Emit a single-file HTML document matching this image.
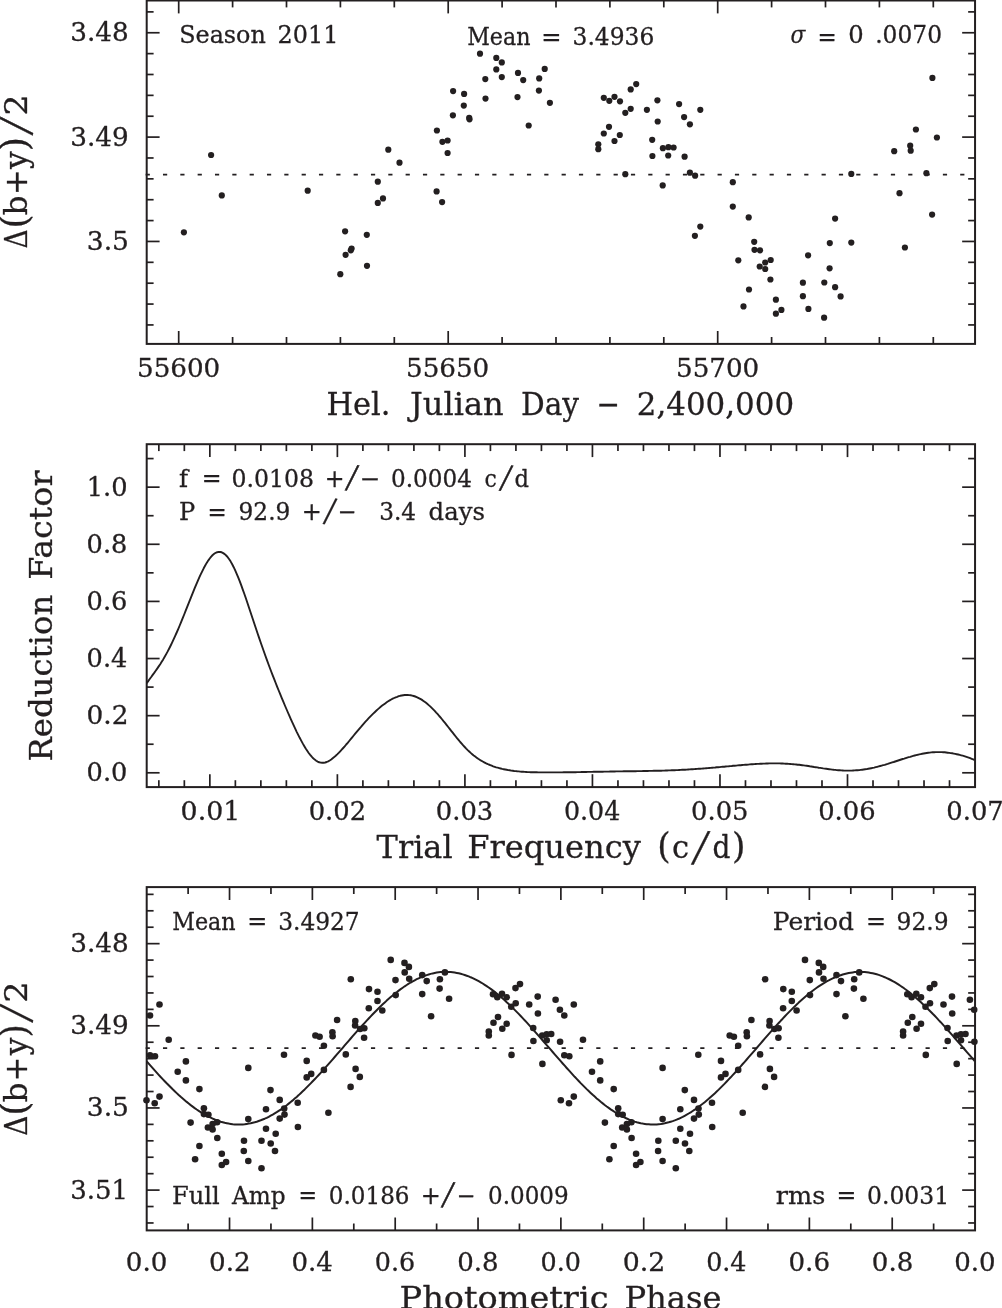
<!DOCTYPE html>
<html lang="en"><head><meta charset="utf-8"><title>Photometric light curve, periodogram and phase plot</title>
<style>html,body{margin:0;padding:0;background:#fff}body{width:1002px;height:1308px;overflow:hidden}svg{display:block}text{font-family:"DejaVu Serif", "Liberation Serif", serif;fill:#231f20;stroke:#231f20;stroke-width:0.3px;stroke-linejoin:round;white-space:pre}</style>
</head><body>
<svg width="1002" height="1308" viewBox="0 0 1002 1308">
<rect width="1002" height="1308" fill="#ffffff"/>
<g stroke="#231f20" fill="none" stroke-linecap="butt">
<rect x="146.7" y="0.5" width="828.3499999999999" height="343.4" fill="none" stroke-width="2.0"/>
<line x1="146.70" y1="32.75" x2="159.60" y2="32.75" stroke-width="1.7" />
<line x1="975.05" y1="32.75" x2="962.15" y2="32.75" stroke-width="1.7" />
<line x1="146.70" y1="137.10" x2="159.60" y2="137.10" stroke-width="1.7" />
<line x1="975.05" y1="137.10" x2="962.15" y2="137.10" stroke-width="1.7" />
<line x1="146.70" y1="241.45" x2="159.60" y2="241.45" stroke-width="1.7" />
<line x1="975.05" y1="241.45" x2="962.15" y2="241.45" stroke-width="1.7" />
<line x1="146.70" y1="11.88" x2="153.60" y2="11.88" stroke-width="1.7" />
<line x1="975.05" y1="11.88" x2="968.15" y2="11.88" stroke-width="1.7" />
<line x1="146.70" y1="53.62" x2="153.60" y2="53.62" stroke-width="1.7" />
<line x1="975.05" y1="53.62" x2="968.15" y2="53.62" stroke-width="1.7" />
<line x1="146.70" y1="74.49" x2="153.60" y2="74.49" stroke-width="1.7" />
<line x1="975.05" y1="74.49" x2="968.15" y2="74.49" stroke-width="1.7" />
<line x1="146.70" y1="95.36" x2="153.60" y2="95.36" stroke-width="1.7" />
<line x1="975.05" y1="95.36" x2="968.15" y2="95.36" stroke-width="1.7" />
<line x1="146.70" y1="116.23" x2="153.60" y2="116.23" stroke-width="1.7" />
<line x1="975.05" y1="116.23" x2="968.15" y2="116.23" stroke-width="1.7" />
<line x1="146.70" y1="157.97" x2="153.60" y2="157.97" stroke-width="1.7" />
<line x1="975.05" y1="157.97" x2="968.15" y2="157.97" stroke-width="1.7" />
<line x1="146.70" y1="178.84" x2="153.60" y2="178.84" stroke-width="1.7" />
<line x1="975.05" y1="178.84" x2="968.15" y2="178.84" stroke-width="1.7" />
<line x1="146.70" y1="199.71" x2="153.60" y2="199.71" stroke-width="1.7" />
<line x1="975.05" y1="199.71" x2="968.15" y2="199.71" stroke-width="1.7" />
<line x1="146.70" y1="220.58" x2="153.60" y2="220.58" stroke-width="1.7" />
<line x1="975.05" y1="220.58" x2="968.15" y2="220.58" stroke-width="1.7" />
<line x1="146.70" y1="262.32" x2="153.60" y2="262.32" stroke-width="1.7" />
<line x1="975.05" y1="262.32" x2="968.15" y2="262.32" stroke-width="1.7" />
<line x1="146.70" y1="283.19" x2="153.60" y2="283.19" stroke-width="1.7" />
<line x1="975.05" y1="283.19" x2="968.15" y2="283.19" stroke-width="1.7" />
<line x1="146.70" y1="304.06" x2="153.60" y2="304.06" stroke-width="1.7" />
<line x1="975.05" y1="304.06" x2="968.15" y2="304.06" stroke-width="1.7" />
<line x1="146.70" y1="324.93" x2="153.60" y2="324.93" stroke-width="1.7" />
<line x1="975.05" y1="324.93" x2="968.15" y2="324.93" stroke-width="1.7" />
<line x1="178.70" y1="0.50" x2="178.70" y2="13.40" stroke-width="1.7" />
<line x1="178.70" y1="343.90" x2="178.70" y2="331.00" stroke-width="1.7" />
<line x1="448.20" y1="0.50" x2="448.20" y2="13.40" stroke-width="1.7" />
<line x1="448.20" y1="343.90" x2="448.20" y2="331.00" stroke-width="1.7" />
<line x1="717.70" y1="0.50" x2="717.70" y2="13.40" stroke-width="1.7" />
<line x1="717.70" y1="343.90" x2="717.70" y2="331.00" stroke-width="1.7" />
<line x1="232.60" y1="0.50" x2="232.60" y2="7.40" stroke-width="1.7" />
<line x1="232.60" y1="343.90" x2="232.60" y2="337.00" stroke-width="1.7" />
<line x1="286.50" y1="0.50" x2="286.50" y2="7.40" stroke-width="1.7" />
<line x1="286.50" y1="343.90" x2="286.50" y2="337.00" stroke-width="1.7" />
<line x1="340.40" y1="0.50" x2="340.40" y2="7.40" stroke-width="1.7" />
<line x1="340.40" y1="343.90" x2="340.40" y2="337.00" stroke-width="1.7" />
<line x1="394.30" y1="0.50" x2="394.30" y2="7.40" stroke-width="1.7" />
<line x1="394.30" y1="343.90" x2="394.30" y2="337.00" stroke-width="1.7" />
<line x1="502.10" y1="0.50" x2="502.10" y2="7.40" stroke-width="1.7" />
<line x1="502.10" y1="343.90" x2="502.10" y2="337.00" stroke-width="1.7" />
<line x1="556.00" y1="0.50" x2="556.00" y2="7.40" stroke-width="1.7" />
<line x1="556.00" y1="343.90" x2="556.00" y2="337.00" stroke-width="1.7" />
<line x1="609.90" y1="0.50" x2="609.90" y2="7.40" stroke-width="1.7" />
<line x1="609.90" y1="343.90" x2="609.90" y2="337.00" stroke-width="1.7" />
<line x1="663.80" y1="0.50" x2="663.80" y2="7.40" stroke-width="1.7" />
<line x1="663.80" y1="343.90" x2="663.80" y2="337.00" stroke-width="1.7" />
<line x1="771.60" y1="0.50" x2="771.60" y2="7.40" stroke-width="1.7" />
<line x1="771.60" y1="343.90" x2="771.60" y2="337.00" stroke-width="1.7" />
<line x1="825.50" y1="0.50" x2="825.50" y2="7.40" stroke-width="1.7" />
<line x1="825.50" y1="343.90" x2="825.50" y2="337.00" stroke-width="1.7" />
<line x1="879.40" y1="0.50" x2="879.40" y2="7.40" stroke-width="1.7" />
<line x1="879.40" y1="343.90" x2="879.40" y2="337.00" stroke-width="1.7" />
<line x1="933.30" y1="0.50" x2="933.30" y2="7.40" stroke-width="1.7" />
<line x1="933.30" y1="343.90" x2="933.30" y2="337.00" stroke-width="1.7" />
<line x1="145.65" y1="174.7" x2="975.05" y2="174.7" stroke-width="1.8" stroke-dasharray="4.2 13.131"/>
<rect x="146.7" y="444.2" width="828.3499999999999" height="342.90000000000003" fill="none" stroke-width="2.0"/>
<line x1="146.70" y1="772.80" x2="159.60" y2="772.80" stroke-width="1.7" />
<line x1="975.05" y1="772.80" x2="962.15" y2="772.80" stroke-width="1.7" />
<line x1="146.70" y1="715.67" x2="159.60" y2="715.67" stroke-width="1.7" />
<line x1="975.05" y1="715.67" x2="962.15" y2="715.67" stroke-width="1.7" />
<line x1="146.70" y1="658.54" x2="159.60" y2="658.54" stroke-width="1.7" />
<line x1="975.05" y1="658.54" x2="962.15" y2="658.54" stroke-width="1.7" />
<line x1="146.70" y1="601.41" x2="159.60" y2="601.41" stroke-width="1.7" />
<line x1="975.05" y1="601.41" x2="962.15" y2="601.41" stroke-width="1.7" />
<line x1="146.70" y1="544.28" x2="159.60" y2="544.28" stroke-width="1.7" />
<line x1="975.05" y1="544.28" x2="962.15" y2="544.28" stroke-width="1.7" />
<line x1="146.70" y1="487.15" x2="159.60" y2="487.15" stroke-width="1.7" />
<line x1="975.05" y1="487.15" x2="962.15" y2="487.15" stroke-width="1.7" />
<line x1="146.70" y1="744.23" x2="153.60" y2="744.23" stroke-width="1.7" />
<line x1="975.05" y1="744.23" x2="968.15" y2="744.23" stroke-width="1.7" />
<line x1="146.70" y1="687.10" x2="153.60" y2="687.10" stroke-width="1.7" />
<line x1="975.05" y1="687.10" x2="968.15" y2="687.10" stroke-width="1.7" />
<line x1="146.70" y1="629.97" x2="153.60" y2="629.97" stroke-width="1.7" />
<line x1="975.05" y1="629.97" x2="968.15" y2="629.97" stroke-width="1.7" />
<line x1="146.70" y1="572.84" x2="153.60" y2="572.84" stroke-width="1.7" />
<line x1="975.05" y1="572.84" x2="968.15" y2="572.84" stroke-width="1.7" />
<line x1="146.70" y1="515.71" x2="153.60" y2="515.71" stroke-width="1.7" />
<line x1="975.05" y1="515.71" x2="968.15" y2="515.71" stroke-width="1.7" />
<line x1="146.70" y1="458.58" x2="153.60" y2="458.58" stroke-width="1.7" />
<line x1="975.05" y1="458.58" x2="968.15" y2="458.58" stroke-width="1.7" />
<line x1="209.85" y1="444.20" x2="209.85" y2="457.10" stroke-width="1.7" />
<line x1="209.85" y1="787.10" x2="209.85" y2="774.20" stroke-width="1.7" />
<line x1="337.38" y1="444.20" x2="337.38" y2="457.10" stroke-width="1.7" />
<line x1="337.38" y1="787.10" x2="337.38" y2="774.20" stroke-width="1.7" />
<line x1="464.91" y1="444.20" x2="464.91" y2="457.10" stroke-width="1.7" />
<line x1="464.91" y1="787.10" x2="464.91" y2="774.20" stroke-width="1.7" />
<line x1="592.44" y1="444.20" x2="592.44" y2="457.10" stroke-width="1.7" />
<line x1="592.44" y1="787.10" x2="592.44" y2="774.20" stroke-width="1.7" />
<line x1="719.97" y1="444.20" x2="719.97" y2="457.10" stroke-width="1.7" />
<line x1="719.97" y1="787.10" x2="719.97" y2="774.20" stroke-width="1.7" />
<line x1="847.50" y1="444.20" x2="847.50" y2="457.10" stroke-width="1.7" />
<line x1="847.50" y1="787.10" x2="847.50" y2="774.20" stroke-width="1.7" />
<line x1="158.84" y1="444.20" x2="158.84" y2="451.10" stroke-width="1.7" />
<line x1="158.84" y1="787.10" x2="158.84" y2="780.20" stroke-width="1.7" />
<line x1="184.34" y1="444.20" x2="184.34" y2="451.10" stroke-width="1.7" />
<line x1="184.34" y1="787.10" x2="184.34" y2="780.20" stroke-width="1.7" />
<line x1="235.36" y1="444.20" x2="235.36" y2="451.10" stroke-width="1.7" />
<line x1="235.36" y1="787.10" x2="235.36" y2="780.20" stroke-width="1.7" />
<line x1="260.86" y1="444.20" x2="260.86" y2="451.10" stroke-width="1.7" />
<line x1="260.86" y1="787.10" x2="260.86" y2="780.20" stroke-width="1.7" />
<line x1="286.37" y1="444.20" x2="286.37" y2="451.10" stroke-width="1.7" />
<line x1="286.37" y1="787.10" x2="286.37" y2="780.20" stroke-width="1.7" />
<line x1="311.87" y1="444.20" x2="311.87" y2="451.10" stroke-width="1.7" />
<line x1="311.87" y1="787.10" x2="311.87" y2="780.20" stroke-width="1.7" />
<line x1="362.89" y1="444.20" x2="362.89" y2="451.10" stroke-width="1.7" />
<line x1="362.89" y1="787.10" x2="362.89" y2="780.20" stroke-width="1.7" />
<line x1="388.39" y1="444.20" x2="388.39" y2="451.10" stroke-width="1.7" />
<line x1="388.39" y1="787.10" x2="388.39" y2="780.20" stroke-width="1.7" />
<line x1="413.90" y1="444.20" x2="413.90" y2="451.10" stroke-width="1.7" />
<line x1="413.90" y1="787.10" x2="413.90" y2="780.20" stroke-width="1.7" />
<line x1="439.40" y1="444.20" x2="439.40" y2="451.10" stroke-width="1.7" />
<line x1="439.40" y1="787.10" x2="439.40" y2="780.20" stroke-width="1.7" />
<line x1="490.42" y1="444.20" x2="490.42" y2="451.10" stroke-width="1.7" />
<line x1="490.42" y1="787.10" x2="490.42" y2="780.20" stroke-width="1.7" />
<line x1="515.92" y1="444.20" x2="515.92" y2="451.10" stroke-width="1.7" />
<line x1="515.92" y1="787.10" x2="515.92" y2="780.20" stroke-width="1.7" />
<line x1="541.43" y1="444.20" x2="541.43" y2="451.10" stroke-width="1.7" />
<line x1="541.43" y1="787.10" x2="541.43" y2="780.20" stroke-width="1.7" />
<line x1="566.93" y1="444.20" x2="566.93" y2="451.10" stroke-width="1.7" />
<line x1="566.93" y1="787.10" x2="566.93" y2="780.20" stroke-width="1.7" />
<line x1="617.95" y1="444.20" x2="617.95" y2="451.10" stroke-width="1.7" />
<line x1="617.95" y1="787.10" x2="617.95" y2="780.20" stroke-width="1.7" />
<line x1="643.45" y1="444.20" x2="643.45" y2="451.10" stroke-width="1.7" />
<line x1="643.45" y1="787.10" x2="643.45" y2="780.20" stroke-width="1.7" />
<line x1="668.96" y1="444.20" x2="668.96" y2="451.10" stroke-width="1.7" />
<line x1="668.96" y1="787.10" x2="668.96" y2="780.20" stroke-width="1.7" />
<line x1="694.46" y1="444.20" x2="694.46" y2="451.10" stroke-width="1.7" />
<line x1="694.46" y1="787.10" x2="694.46" y2="780.20" stroke-width="1.7" />
<line x1="745.48" y1="444.20" x2="745.48" y2="451.10" stroke-width="1.7" />
<line x1="745.48" y1="787.10" x2="745.48" y2="780.20" stroke-width="1.7" />
<line x1="770.98" y1="444.20" x2="770.98" y2="451.10" stroke-width="1.7" />
<line x1="770.98" y1="787.10" x2="770.98" y2="780.20" stroke-width="1.7" />
<line x1="796.49" y1="444.20" x2="796.49" y2="451.10" stroke-width="1.7" />
<line x1="796.49" y1="787.10" x2="796.49" y2="780.20" stroke-width="1.7" />
<line x1="821.99" y1="444.20" x2="821.99" y2="451.10" stroke-width="1.7" />
<line x1="821.99" y1="787.10" x2="821.99" y2="780.20" stroke-width="1.7" />
<line x1="873.01" y1="444.20" x2="873.01" y2="451.10" stroke-width="1.7" />
<line x1="873.01" y1="787.10" x2="873.01" y2="780.20" stroke-width="1.7" />
<line x1="898.51" y1="444.20" x2="898.51" y2="451.10" stroke-width="1.7" />
<line x1="898.51" y1="787.10" x2="898.51" y2="780.20" stroke-width="1.7" />
<line x1="924.02" y1="444.20" x2="924.02" y2="451.10" stroke-width="1.7" />
<line x1="924.02" y1="787.10" x2="924.02" y2="780.20" stroke-width="1.7" />
<line x1="949.52" y1="444.20" x2="949.52" y2="451.10" stroke-width="1.7" />
<line x1="949.52" y1="787.10" x2="949.52" y2="780.20" stroke-width="1.7" />
<path d="M146.7 683.2 L148.2 681.1 L149.7 679.0 L151.2 677.0 L152.7 674.9 L154.2 672.9 L155.7 670.8 L157.2 668.6 L158.7 666.4 L160.2 664.2 L161.7 661.8 L163.2 659.4 L164.7 656.8 L166.2 654.1 L167.7 651.4 L169.2 648.5 L170.7 645.5 L172.2 642.4 L173.7 639.2 L175.2 635.9 L176.7 632.5 L178.2 629.1 L179.7 625.5 L181.2 621.9 L182.7 618.2 L184.2 614.5 L185.7 610.7 L187.2 606.9 L188.7 603.2 L190.2 599.4 L191.7 595.6 L193.2 591.9 L194.7 588.2 L196.2 584.6 L197.7 581.1 L199.2 577.7 L200.7 574.4 L202.2 571.3 L203.7 568.3 L205.2 565.5 L206.7 562.9 L208.2 560.6 L209.7 558.5 L211.2 556.6 L212.7 555.0 L214.2 553.8 L215.7 552.8 L217.2 552.2 L218.7 551.9 L220.2 552.0 L221.7 552.3 L223.2 553.1 L224.7 554.1 L226.2 555.5 L227.7 557.2 L229.2 559.3 L230.7 561.6 L232.2 564.3 L233.7 567.2 L235.2 570.4 L236.7 573.8 L238.2 577.4 L239.7 581.2 L241.2 585.2 L242.7 589.3 L244.2 593.5 L245.7 597.8 L247.2 602.2 L248.7 606.7 L250.2 611.2 L251.7 615.7 L253.2 620.2 L254.7 624.7 L256.2 629.2 L257.7 633.7 L259.2 638.1 L260.7 642.5 L262.2 646.8 L263.7 651.0 L265.2 655.3 L266.7 659.4 L268.2 663.5 L269.7 667.5 L271.2 671.5 L272.7 675.4 L274.2 679.2 L275.7 683.0 L277.2 686.8 L278.7 690.5 L280.2 694.2 L281.7 697.8 L283.2 701.4 L284.7 705.0 L286.2 708.5 L287.7 712.0 L289.2 715.4 L290.7 718.8 L292.2 722.2 L293.7 725.4 L295.2 728.6 L296.7 731.8 L298.2 734.8 L299.7 737.8 L301.2 740.6 L302.7 743.4 L304.2 746.0 L305.7 748.5 L307.2 750.8 L308.7 753.0 L310.2 754.9 L311.7 756.7 L313.2 758.3 L314.7 759.6 L316.2 760.7 L317.7 761.6 L319.2 762.3 L320.7 762.6 L322.2 762.8 L323.7 762.7 L325.2 762.5 L326.7 762.0 L328.2 761.3 L329.7 760.5 L331.2 759.5 L332.7 758.3 L334.2 757.1 L335.7 755.8 L337.2 754.4 L338.7 752.9 L340.2 751.3 L341.7 749.7 L343.2 748.0 L344.7 746.3 L346.2 744.5 L347.7 742.8 L349.2 741.0 L350.7 739.2 L352.2 737.3 L353.7 735.5 L355.2 733.7 L356.7 731.9 L358.2 730.1 L359.7 728.3 L361.2 726.6 L362.7 724.8 L364.2 723.1 L365.7 721.4 L367.2 719.8 L368.7 718.2 L370.2 716.6 L371.7 715.1 L373.2 713.6 L374.7 712.2 L376.2 710.8 L377.7 709.4 L379.2 708.1 L380.7 706.8 L382.2 705.6 L383.7 704.5 L385.2 703.4 L386.7 702.3 L388.2 701.3 L389.7 700.4 L391.2 699.5 L392.7 698.7 L394.2 698.0 L395.7 697.3 L397.2 696.8 L398.7 696.2 L400.2 695.8 L401.7 695.5 L403.2 695.2 L404.7 695.0 L406.2 695.0 L407.7 695.0 L409.2 695.1 L410.7 695.3 L412.2 695.6 L413.7 696.0 L415.2 696.5 L416.7 697.1 L418.2 697.8 L419.7 698.6 L421.2 699.4 L422.7 700.4 L424.2 701.5 L425.7 702.6 L427.2 703.8 L428.7 705.1 L430.2 706.4 L431.7 707.9 L433.2 709.4 L434.7 710.9 L436.2 712.6 L437.7 714.2 L439.2 716.0 L440.7 717.7 L442.2 719.5 L443.7 721.4 L445.2 723.2 L446.7 725.1 L448.2 727.0 L449.7 728.9 L451.2 730.8 L452.7 732.7 L454.2 734.6 L455.7 736.5 L457.2 738.4 L458.7 740.2 L460.2 742.0 L461.7 743.7 L463.2 745.4 L464.7 747.0 L466.2 748.6 L467.7 750.1 L469.2 751.5 L470.7 752.9 L472.2 754.2 L473.7 755.5 L475.2 756.6 L476.7 757.7 L478.2 758.8 L479.7 759.7 L481.2 760.7 L482.7 761.5 L484.2 762.3 L485.7 763.1 L487.2 763.8 L488.7 764.5 L490.2 765.1 L491.7 765.7 L493.2 766.3 L494.7 766.8 L496.2 767.3 L497.7 767.7 L499.2 768.1 L500.7 768.5 L502.2 768.9 L503.7 769.2 L505.2 769.5 L506.7 769.8 L508.2 770.1 L509.7 770.3 L511.2 770.6 L512.7 770.8 L514.2 771.0 L515.7 771.1 L517.2 771.3 L518.7 771.4 L520.2 771.6 L521.7 771.7 L523.2 771.8 L524.7 771.9 L526.2 772.0 L527.7 772.1 L529.2 772.1 L530.7 772.2 L532.2 772.2 L533.7 772.3 L535.2 772.3 L536.7 772.3 L538.2 772.4 L539.7 772.4 L541.2 772.4 L542.7 772.4 L544.2 772.4 L545.7 772.4 L547.2 772.4 L548.7 772.4 L550.2 772.4 L551.7 772.4 L553.2 772.4 L554.7 772.4 L556.2 772.4 L557.7 772.4 L559.2 772.4 L560.7 772.4 L562.2 772.4 L563.7 772.3 L565.2 772.3 L566.7 772.3 L568.2 772.3 L569.7 772.3 L571.2 772.2 L572.7 772.2 L574.2 772.2 L575.7 772.2 L577.2 772.1 L578.7 772.1 L580.2 772.1 L581.7 772.0 L583.2 772.0 L584.7 772.0 L586.2 772.0 L587.7 771.9 L589.2 771.9 L590.7 771.9 L592.2 771.9 L593.7 771.8 L595.2 771.8 L596.7 771.8 L598.2 771.7 L599.7 771.7 L601.2 771.7 L602.7 771.7 L604.2 771.6 L605.7 771.6 L607.2 771.6 L608.7 771.6 L610.2 771.5 L611.7 771.5 L613.2 771.5 L614.7 771.5 L616.2 771.4 L617.7 771.4 L619.2 771.4 L620.7 771.4 L622.2 771.4 L623.7 771.3 L625.2 771.3 L626.7 771.3 L628.2 771.3 L629.7 771.2 L631.2 771.2 L632.7 771.2 L634.2 771.2 L635.7 771.2 L637.2 771.1 L638.7 771.1 L640.2 771.1 L641.7 771.1 L643.2 771.0 L644.7 771.0 L646.2 771.0 L647.7 771.0 L649.2 770.9 L650.7 770.9 L652.2 770.9 L653.7 770.8 L655.2 770.8 L656.7 770.8 L658.2 770.7 L659.7 770.7 L661.2 770.7 L662.7 770.6 L664.2 770.6 L665.7 770.5 L667.2 770.5 L668.7 770.4 L670.2 770.4 L671.7 770.3 L673.2 770.3 L674.7 770.2 L676.2 770.1 L677.7 770.1 L679.2 770.0 L680.7 769.9 L682.2 769.8 L683.7 769.8 L685.2 769.7 L686.7 769.6 L688.2 769.5 L689.7 769.4 L691.2 769.3 L692.7 769.2 L694.2 769.1 L695.7 769.0 L697.2 768.9 L698.7 768.8 L700.2 768.7 L701.7 768.6 L703.2 768.5 L704.7 768.4 L706.2 768.2 L707.7 768.1 L709.2 768.0 L710.7 767.9 L712.2 767.7 L713.7 767.6 L715.2 767.5 L716.7 767.3 L718.2 767.2 L719.7 767.1 L721.2 766.9 L722.7 766.8 L724.2 766.7 L725.7 766.5 L727.2 766.4 L728.7 766.3 L730.2 766.1 L731.7 766.0 L733.2 765.8 L734.7 765.7 L736.2 765.6 L737.7 765.4 L739.2 765.3 L740.7 765.2 L742.2 765.0 L743.7 764.9 L745.2 764.8 L746.7 764.7 L748.2 764.6 L749.7 764.4 L751.2 764.3 L752.7 764.2 L754.2 764.1 L755.7 764.0 L757.2 763.9 L758.7 763.9 L760.2 763.8 L761.7 763.7 L763.2 763.6 L764.7 763.6 L766.2 763.5 L767.7 763.5 L769.2 763.4 L770.7 763.4 L772.2 763.4 L773.7 763.4 L775.2 763.4 L776.7 763.4 L778.2 763.4 L779.7 763.4 L781.2 763.5 L782.7 763.5 L784.2 763.6 L785.7 763.7 L787.2 763.8 L788.7 763.9 L790.2 764.0 L791.7 764.1 L793.2 764.2 L794.7 764.4 L796.2 764.5 L797.7 764.7 L799.2 764.8 L800.7 765.0 L802.2 765.2 L803.7 765.4 L805.2 765.6 L806.7 765.8 L808.2 766.0 L809.7 766.3 L811.2 766.5 L812.7 766.7 L814.2 767.0 L815.7 767.2 L817.2 767.4 L818.7 767.7 L820.2 767.9 L821.7 768.1 L823.2 768.4 L824.7 768.6 L826.2 768.8 L827.7 769.0 L829.2 769.2 L830.7 769.4 L832.2 769.6 L833.7 769.8 L835.2 769.9 L836.7 770.1 L838.2 770.2 L839.7 770.3 L841.2 770.4 L842.7 770.5 L844.2 770.6 L845.7 770.6 L847.2 770.6 L848.7 770.6 L850.2 770.6 L851.7 770.6 L853.2 770.5 L854.7 770.4 L856.2 770.3 L857.7 770.2 L859.2 770.1 L860.7 769.9 L862.2 769.7 L863.7 769.5 L865.2 769.3 L866.7 769.1 L868.2 768.8 L869.7 768.5 L871.2 768.2 L872.7 767.9 L874.2 767.6 L875.7 767.2 L877.2 766.8 L878.7 766.4 L880.2 766.0 L881.7 765.6 L883.2 765.2 L884.7 764.8 L886.2 764.3 L887.7 763.9 L889.2 763.4 L890.7 762.9 L892.2 762.4 L893.7 762.0 L895.2 761.5 L896.7 761.0 L898.2 760.5 L899.7 760.0 L901.2 759.5 L902.7 759.0 L904.2 758.6 L905.7 758.1 L907.2 757.6 L908.7 757.2 L910.2 756.8 L911.7 756.3 L913.2 755.9 L914.7 755.5 L916.2 755.1 L917.7 754.8 L919.2 754.4 L920.7 754.1 L922.2 753.8 L923.7 753.5 L925.2 753.2 L926.7 753.0 L928.2 752.8 L929.7 752.6 L931.2 752.4 L932.7 752.3 L934.2 752.2 L935.7 752.1 L937.2 752.1 L938.7 752.1 L940.2 752.1 L941.7 752.1 L943.2 752.2 L944.7 752.3 L946.2 752.5 L947.7 752.7 L949.2 752.9 L950.7 753.1 L952.2 753.3 L953.7 753.6 L955.2 753.9 L956.7 754.2 L958.2 754.5 L959.7 754.9 L961.2 755.3 L962.7 755.7 L964.2 756.1 L965.7 756.6 L967.2 757.1 L968.7 757.6 L970.2 758.2 L971.7 758.8 L973.2 759.4 L974.7 760.1" stroke-width="1.9" stroke-linejoin="round"/>
<rect x="146.7" y="887.1" width="828.3499999999999" height="343.30000000000007" fill="none" stroke-width="2.0"/>
<line x1="146.70" y1="943.65" x2="159.60" y2="943.65" stroke-width="1.7" />
<line x1="975.05" y1="943.65" x2="962.15" y2="943.65" stroke-width="1.7" />
<line x1="146.70" y1="1025.80" x2="159.60" y2="1025.80" stroke-width="1.7" />
<line x1="975.05" y1="1025.80" x2="962.15" y2="1025.80" stroke-width="1.7" />
<line x1="146.70" y1="1107.95" x2="159.60" y2="1107.95" stroke-width="1.7" />
<line x1="975.05" y1="1107.95" x2="962.15" y2="1107.95" stroke-width="1.7" />
<line x1="146.70" y1="1190.10" x2="159.60" y2="1190.10" stroke-width="1.7" />
<line x1="975.05" y1="1190.10" x2="962.15" y2="1190.10" stroke-width="1.7" />
<line x1="146.70" y1="894.36" x2="153.60" y2="894.36" stroke-width="1.7" />
<line x1="975.05" y1="894.36" x2="968.15" y2="894.36" stroke-width="1.7" />
<line x1="146.70" y1="910.79" x2="153.60" y2="910.79" stroke-width="1.7" />
<line x1="975.05" y1="910.79" x2="968.15" y2="910.79" stroke-width="1.7" />
<line x1="146.70" y1="927.22" x2="153.60" y2="927.22" stroke-width="1.7" />
<line x1="975.05" y1="927.22" x2="968.15" y2="927.22" stroke-width="1.7" />
<line x1="146.70" y1="960.08" x2="153.60" y2="960.08" stroke-width="1.7" />
<line x1="975.05" y1="960.08" x2="968.15" y2="960.08" stroke-width="1.7" />
<line x1="146.70" y1="976.51" x2="153.60" y2="976.51" stroke-width="1.7" />
<line x1="975.05" y1="976.51" x2="968.15" y2="976.51" stroke-width="1.7" />
<line x1="146.70" y1="992.94" x2="153.60" y2="992.94" stroke-width="1.7" />
<line x1="975.05" y1="992.94" x2="968.15" y2="992.94" stroke-width="1.7" />
<line x1="146.70" y1="1009.37" x2="153.60" y2="1009.37" stroke-width="1.7" />
<line x1="975.05" y1="1009.37" x2="968.15" y2="1009.37" stroke-width="1.7" />
<line x1="146.70" y1="1042.23" x2="153.60" y2="1042.23" stroke-width="1.7" />
<line x1="975.05" y1="1042.23" x2="968.15" y2="1042.23" stroke-width="1.7" />
<line x1="146.70" y1="1058.66" x2="153.60" y2="1058.66" stroke-width="1.7" />
<line x1="975.05" y1="1058.66" x2="968.15" y2="1058.66" stroke-width="1.7" />
<line x1="146.70" y1="1075.09" x2="153.60" y2="1075.09" stroke-width="1.7" />
<line x1="975.05" y1="1075.09" x2="968.15" y2="1075.09" stroke-width="1.7" />
<line x1="146.70" y1="1091.52" x2="153.60" y2="1091.52" stroke-width="1.7" />
<line x1="975.05" y1="1091.52" x2="968.15" y2="1091.52" stroke-width="1.7" />
<line x1="146.70" y1="1124.38" x2="153.60" y2="1124.38" stroke-width="1.7" />
<line x1="975.05" y1="1124.38" x2="968.15" y2="1124.38" stroke-width="1.7" />
<line x1="146.70" y1="1140.81" x2="153.60" y2="1140.81" stroke-width="1.7" />
<line x1="975.05" y1="1140.81" x2="968.15" y2="1140.81" stroke-width="1.7" />
<line x1="146.70" y1="1157.24" x2="153.60" y2="1157.24" stroke-width="1.7" />
<line x1="975.05" y1="1157.24" x2="968.15" y2="1157.24" stroke-width="1.7" />
<line x1="146.70" y1="1173.67" x2="153.60" y2="1173.67" stroke-width="1.7" />
<line x1="975.05" y1="1173.67" x2="968.15" y2="1173.67" stroke-width="1.7" />
<line x1="146.70" y1="1206.53" x2="153.60" y2="1206.53" stroke-width="1.7" />
<line x1="975.05" y1="1206.53" x2="968.15" y2="1206.53" stroke-width="1.7" />
<line x1="146.70" y1="1222.96" x2="153.60" y2="1222.96" stroke-width="1.7" />
<line x1="975.05" y1="1222.96" x2="968.15" y2="1222.96" stroke-width="1.7" />
<line x1="229.53" y1="887.10" x2="229.53" y2="900.00" stroke-width="1.7" />
<line x1="229.53" y1="1230.40" x2="229.53" y2="1217.50" stroke-width="1.7" />
<line x1="312.37" y1="887.10" x2="312.37" y2="900.00" stroke-width="1.7" />
<line x1="312.37" y1="1230.40" x2="312.37" y2="1217.50" stroke-width="1.7" />
<line x1="395.20" y1="887.10" x2="395.20" y2="900.00" stroke-width="1.7" />
<line x1="395.20" y1="1230.40" x2="395.20" y2="1217.50" stroke-width="1.7" />
<line x1="478.04" y1="887.10" x2="478.04" y2="900.00" stroke-width="1.7" />
<line x1="478.04" y1="1230.40" x2="478.04" y2="1217.50" stroke-width="1.7" />
<line x1="560.88" y1="887.10" x2="560.88" y2="900.00" stroke-width="1.7" />
<line x1="560.88" y1="1230.40" x2="560.88" y2="1217.50" stroke-width="1.7" />
<line x1="643.71" y1="887.10" x2="643.71" y2="900.00" stroke-width="1.7" />
<line x1="643.71" y1="1230.40" x2="643.71" y2="1217.50" stroke-width="1.7" />
<line x1="726.54" y1="887.10" x2="726.54" y2="900.00" stroke-width="1.7" />
<line x1="726.54" y1="1230.40" x2="726.54" y2="1217.50" stroke-width="1.7" />
<line x1="809.38" y1="887.10" x2="809.38" y2="900.00" stroke-width="1.7" />
<line x1="809.38" y1="1230.40" x2="809.38" y2="1217.50" stroke-width="1.7" />
<line x1="892.21" y1="887.10" x2="892.21" y2="900.00" stroke-width="1.7" />
<line x1="892.21" y1="1230.40" x2="892.21" y2="1217.50" stroke-width="1.7" />
<line x1="188.12" y1="887.10" x2="188.12" y2="894.00" stroke-width="1.7" />
<line x1="188.12" y1="1230.40" x2="188.12" y2="1223.50" stroke-width="1.7" />
<line x1="270.95" y1="887.10" x2="270.95" y2="894.00" stroke-width="1.7" />
<line x1="270.95" y1="1230.40" x2="270.95" y2="1223.50" stroke-width="1.7" />
<line x1="353.79" y1="887.10" x2="353.79" y2="894.00" stroke-width="1.7" />
<line x1="353.79" y1="1230.40" x2="353.79" y2="1223.50" stroke-width="1.7" />
<line x1="436.62" y1="887.10" x2="436.62" y2="894.00" stroke-width="1.7" />
<line x1="436.62" y1="1230.40" x2="436.62" y2="1223.50" stroke-width="1.7" />
<line x1="519.46" y1="887.10" x2="519.46" y2="894.00" stroke-width="1.7" />
<line x1="519.46" y1="1230.40" x2="519.46" y2="1223.50" stroke-width="1.7" />
<line x1="602.29" y1="887.10" x2="602.29" y2="894.00" stroke-width="1.7" />
<line x1="602.29" y1="1230.40" x2="602.29" y2="1223.50" stroke-width="1.7" />
<line x1="685.13" y1="887.10" x2="685.13" y2="894.00" stroke-width="1.7" />
<line x1="685.13" y1="1230.40" x2="685.13" y2="1223.50" stroke-width="1.7" />
<line x1="767.96" y1="887.10" x2="767.96" y2="894.00" stroke-width="1.7" />
<line x1="767.96" y1="1230.40" x2="767.96" y2="1223.50" stroke-width="1.7" />
<line x1="850.80" y1="887.10" x2="850.80" y2="894.00" stroke-width="1.7" />
<line x1="850.80" y1="1230.40" x2="850.80" y2="1223.50" stroke-width="1.7" />
<line x1="933.63" y1="887.10" x2="933.63" y2="894.00" stroke-width="1.7" />
<line x1="933.63" y1="1230.40" x2="933.63" y2="1223.50" stroke-width="1.7" />
<line x1="145.65" y1="1048.2" x2="975.05" y2="1048.2" stroke-width="1.8" stroke-dasharray="4.2 13.131"/>
<path d="M146.7 1061.4 L148.7 1063.7 L150.7 1065.9 L152.7 1068.2 L154.7 1070.4 L156.7 1072.6 L158.7 1074.8 L160.7 1077.0 L162.7 1079.1 L164.7 1081.2 L166.7 1083.3 L168.7 1085.3 L170.7 1087.3 L172.7 1089.3 L174.7 1091.2 L176.7 1093.1 L178.7 1095.0 L180.7 1096.8 L182.7 1098.5 L184.7 1100.2 L186.7 1101.9 L188.7 1103.5 L190.7 1105.1 L192.7 1106.6 L194.7 1108.1 L196.7 1109.5 L198.7 1110.8 L200.7 1112.1 L202.7 1113.4 L204.7 1114.5 L206.7 1115.6 L208.7 1116.7 L210.7 1117.7 L212.7 1118.6 L214.7 1119.5 L216.7 1120.3 L218.7 1121.0 L220.7 1121.7 L222.7 1122.2 L224.7 1122.8 L226.7 1123.2 L228.7 1123.6 L230.7 1123.9 L232.7 1124.2 L234.7 1124.4 L236.7 1124.5 L238.7 1124.5 L240.7 1124.5 L242.7 1124.4 L244.7 1124.2 L246.7 1123.9 L248.7 1123.6 L250.7 1123.3 L252.7 1122.8 L254.7 1122.3 L256.7 1121.7 L258.7 1121.0 L260.7 1120.3 L262.7 1119.5 L264.7 1118.7 L266.7 1117.8 L268.7 1116.8 L270.7 1115.7 L272.7 1114.6 L274.7 1113.4 L276.7 1112.2 L278.7 1110.9 L280.7 1109.6 L282.7 1108.2 L284.7 1106.7 L286.7 1105.2 L288.7 1103.6 L290.7 1102.0 L292.7 1100.4 L294.7 1098.6 L296.7 1096.9 L298.7 1095.1 L300.7 1093.2 L302.7 1091.3 L304.7 1089.4 L306.7 1087.4 L308.7 1085.4 L310.7 1083.4 L312.7 1081.3 L314.7 1079.2 L316.7 1077.1 L318.7 1075.0 L320.7 1072.8 L322.7 1070.6 L324.7 1068.3 L326.7 1066.1 L328.7 1063.8 L330.7 1061.6 L332.7 1059.3 L334.7 1057.0 L336.7 1054.7 L338.7 1052.4 L340.7 1050.1 L342.7 1047.8 L344.7 1045.4 L346.7 1043.1 L348.7 1040.8 L350.7 1038.5 L352.7 1036.2 L354.7 1033.9 L356.7 1031.7 L358.7 1029.4 L360.7 1027.2 L362.7 1025.0 L364.7 1022.8 L366.7 1020.6 L368.7 1018.5 L370.7 1016.4 L372.7 1014.3 L374.7 1012.2 L376.7 1010.2 L378.7 1008.2 L380.7 1006.2 L382.7 1004.3 L384.7 1002.5 L386.7 1000.6 L388.7 998.8 L390.7 997.1 L392.7 995.4 L394.7 993.7 L396.7 992.2 L398.7 990.6 L400.7 989.1 L402.7 987.7 L404.7 986.3 L406.7 985.0 L408.7 983.7 L410.7 982.5 L412.7 981.4 L414.7 980.3 L416.7 979.2 L418.7 978.3 L420.7 977.4 L422.7 976.6 L424.7 975.8 L426.7 975.1 L428.7 974.5 L430.7 973.9 L432.7 973.4 L434.7 973.0 L436.7 972.6 L438.7 972.3 L440.7 972.1 L442.7 972.0 L444.7 971.9 L446.7 971.9 L448.7 972.0 L450.7 972.1 L452.7 972.3 L454.7 972.6 L456.7 972.9 L458.7 973.3 L460.7 973.8 L462.7 974.4 L464.7 975.0 L466.7 975.7 L468.7 976.4 L470.7 977.3 L472.7 978.1 L474.7 979.1 L476.7 980.1 L478.7 981.2 L480.7 982.3 L482.7 983.5 L484.7 984.8 L486.7 986.1 L488.7 987.5 L490.7 988.9 L492.7 990.4 L494.7 991.9 L496.7 993.5 L498.7 995.1 L500.7 996.8 L502.7 998.6 L504.7 1000.3 L506.7 1002.2 L508.7 1004.0 L510.7 1005.9 L512.7 1007.9 L514.7 1009.9 L516.7 1011.9 L518.7 1013.9 L520.7 1016.0 L522.7 1018.1 L524.7 1020.3 L526.7 1022.4 L528.7 1024.6 L530.7 1026.8 L532.7 1029.1 L534.7 1031.3 L536.7 1033.6 L538.7 1035.9 L540.7 1038.2 L542.7 1040.5 L544.7 1042.8 L546.7 1045.1 L548.7 1047.4 L550.7 1049.7 L552.7 1052.0 L554.7 1054.3 L556.7 1056.6 L558.7 1058.9 L560.7 1061.2 L562.7 1063.5 L564.7 1065.7 L566.7 1068.0 L568.7 1070.2 L570.7 1072.4 L572.7 1074.6 L574.7 1076.8 L576.7 1078.9 L578.7 1081.0 L580.7 1083.1 L582.7 1085.1 L584.7 1087.1 L586.7 1089.1 L588.7 1091.0 L590.7 1092.9 L592.7 1094.8 L594.7 1096.6 L596.7 1098.4 L598.7 1100.1 L600.7 1101.8 L602.7 1103.4 L604.7 1105.0 L606.7 1106.5 L608.7 1107.9 L610.7 1109.4 L612.7 1110.7 L614.7 1112.0 L616.7 1113.3 L618.7 1114.4 L620.7 1115.6 L622.7 1116.6 L624.7 1117.6 L626.7 1118.5 L628.7 1119.4 L630.7 1120.2 L632.7 1120.9 L634.7 1121.6 L636.7 1122.2 L638.7 1122.7 L640.7 1123.2 L642.7 1123.6 L644.7 1123.9 L646.7 1124.2 L648.7 1124.3 L650.7 1124.5 L652.7 1124.5 L654.7 1124.5 L656.7 1124.4 L658.7 1124.2 L660.7 1124.0 L662.7 1123.7 L664.7 1123.3 L666.7 1122.8 L668.7 1122.3 L670.7 1121.7 L672.7 1121.1 L674.7 1120.4 L676.7 1119.6 L678.7 1118.8 L680.7 1117.8 L682.7 1116.9 L684.7 1115.8 L686.7 1114.7 L688.7 1113.5 L690.7 1112.3 L692.7 1111.0 L694.7 1109.7 L696.7 1108.3 L698.7 1106.8 L700.7 1105.3 L702.7 1103.8 L704.7 1102.2 L706.7 1100.5 L708.7 1098.8 L710.7 1097.0 L712.7 1095.2 L714.7 1093.4 L716.7 1091.5 L718.7 1089.6 L720.7 1087.6 L722.7 1085.6 L724.7 1083.6 L726.7 1081.5 L728.7 1079.4 L730.7 1077.3 L732.7 1075.1 L734.7 1073.0 L736.7 1070.8 L738.7 1068.5 L740.7 1066.3 L742.7 1064.0 L744.7 1061.8 L746.7 1059.5 L748.7 1057.2 L750.7 1054.9 L752.7 1052.6 L754.7 1050.3 L756.7 1048.0 L758.7 1045.6 L760.7 1043.3 L762.7 1041.0 L764.7 1038.7 L766.7 1036.4 L768.7 1034.1 L770.7 1031.9 L772.7 1029.6 L774.7 1027.4 L776.7 1025.2 L778.7 1023.0 L780.7 1020.8 L782.7 1018.7 L784.7 1016.5 L786.7 1014.4 L788.7 1012.4 L790.7 1010.4 L792.7 1008.4 L794.7 1006.4 L796.7 1004.5 L798.7 1002.6 L800.7 1000.8 L802.7 999.0 L804.7 997.2 L806.7 995.5 L808.7 993.9 L810.7 992.3 L812.7 990.7 L814.7 989.2 L816.7 987.8 L818.7 986.4 L820.7 985.1 L822.7 983.8 L824.7 982.6 L826.7 981.4 L828.7 980.4 L830.7 979.3 L832.7 978.4 L834.7 977.5 L836.7 976.6 L838.7 975.9 L840.7 975.2 L842.7 974.5 L844.7 974.0 L846.7 973.5 L848.7 973.0 L850.7 972.7 L852.7 972.4 L854.7 972.1 L856.7 972.0 L858.7 971.9 L860.7 971.9 L862.7 972.0 L864.7 972.1 L866.7 972.3 L868.7 972.6 L870.7 972.9 L872.7 973.3 L874.7 973.8 L876.7 974.3 L878.7 974.9 L880.7 975.6 L882.7 976.4 L884.7 977.2 L886.7 978.1 L888.7 979.0 L890.7 980.0 L892.7 981.1 L894.7 982.2 L896.7 983.4 L898.7 984.7 L900.7 986.0 L902.7 987.3 L904.7 988.8 L906.7 990.2 L908.7 991.8 L910.7 993.4 L912.7 995.0 L914.7 996.7 L916.7 998.4 L918.7 1000.2 L920.7 1002.0 L922.7 1003.9 L924.7 1005.8 L926.7 1007.7 L928.7 1009.7 L930.7 1011.7 L932.7 1013.8 L934.7 1015.8 L936.7 1017.9 L938.7 1020.1 L940.7 1022.2 L942.7 1024.4 L944.7 1026.6 L946.7 1028.9 L948.7 1031.1 L950.7 1033.4 L952.7 1035.7 L954.7 1038.0 L956.7 1040.3 L958.7 1042.6 L960.7 1044.9 L962.7 1047.2 L964.7 1049.5 L966.7 1051.8 L968.7 1054.1 L970.7 1056.4 L972.7 1058.7 L974.7 1061.0" stroke-width="2" stroke-linejoin="round"/>
</g>
<g fill="#231f20">
<circle cx="183.9" cy="232.3" r="3.1"/>
<circle cx="211.1" cy="155.0" r="3.1"/>
<circle cx="221.8" cy="195.4" r="3.1"/>
<circle cx="307.7" cy="190.7" r="3.1"/>
<circle cx="345.1" cy="231.3" r="3.1"/>
<circle cx="345.6" cy="254.8" r="3.1"/>
<circle cx="350.8" cy="250.3" r="3.1"/>
<circle cx="351.6" cy="248.5" r="3.1"/>
<circle cx="340.3" cy="274.2" r="3.1"/>
<circle cx="366.8" cy="234.8" r="3.1"/>
<circle cx="367.0" cy="265.8" r="3.1"/>
<circle cx="377.8" cy="181.7" r="3.1"/>
<circle cx="377.8" cy="202.9" r="3.1"/>
<circle cx="383.0" cy="198.4" r="3.1"/>
<circle cx="388.3" cy="149.7" r="3.1"/>
<circle cx="399.5" cy="162.7" r="3.1"/>
<circle cx="436.9" cy="130.5" r="3.1"/>
<circle cx="442.4" cy="141.8" r="3.1"/>
<circle cx="447.6" cy="140.5" r="3.1"/>
<circle cx="447.6" cy="153.0" r="3.1"/>
<circle cx="436.6" cy="191.4" r="3.1"/>
<circle cx="442.1" cy="202.1" r="3.1"/>
<circle cx="453.1" cy="91.1" r="3.1"/>
<circle cx="452.9" cy="115.3" r="3.1"/>
<circle cx="464.1" cy="93.9" r="3.1"/>
<circle cx="463.8" cy="105.6" r="3.1"/>
<circle cx="469.2" cy="117.8" r="3.1"/>
<circle cx="469.5" cy="119.3" r="3.1"/>
<circle cx="480.0" cy="53.7" r="3.1"/>
<circle cx="485.3" cy="79.1" r="3.1"/>
<circle cx="485.5" cy="98.6" r="3.1"/>
<circle cx="496.3" cy="57.9" r="3.1"/>
<circle cx="496.3" cy="69.4" r="3.1"/>
<circle cx="501.8" cy="62.4" r="3.1"/>
<circle cx="501.8" cy="77.1" r="3.1"/>
<circle cx="518.0" cy="72.9" r="3.1"/>
<circle cx="517.5" cy="97.1" r="3.1"/>
<circle cx="523.2" cy="80.1" r="3.1"/>
<circle cx="528.7" cy="125.5" r="3.1"/>
<circle cx="539.2" cy="78.4" r="3.1"/>
<circle cx="538.9" cy="90.6" r="3.1"/>
<circle cx="544.7" cy="68.9" r="3.1"/>
<circle cx="549.9" cy="102.8" r="3.1"/>
<circle cx="598.3" cy="144.3" r="3.1"/>
<circle cx="598.3" cy="149.2" r="3.1"/>
<circle cx="603.8" cy="97.8" r="3.1"/>
<circle cx="603.8" cy="133.5" r="3.1"/>
<circle cx="609.3" cy="100.8" r="3.1"/>
<circle cx="609.0" cy="126.8" r="3.1"/>
<circle cx="614.5" cy="96.8" r="3.1"/>
<circle cx="614.5" cy="141.0" r="3.1"/>
<circle cx="620.0" cy="101.3" r="3.1"/>
<circle cx="619.8" cy="135.0" r="3.1"/>
<circle cx="625.3" cy="112.8" r="3.1"/>
<circle cx="625.3" cy="174.2" r="3.1"/>
<circle cx="630.7" cy="89.4" r="3.1"/>
<circle cx="630.7" cy="108.8" r="3.1"/>
<circle cx="636.2" cy="84.1" r="3.1"/>
<circle cx="646.9" cy="109.8" r="3.1"/>
<circle cx="657.4" cy="100.3" r="3.1"/>
<circle cx="657.7" cy="121.5" r="3.1"/>
<circle cx="652.2" cy="139.8" r="3.1"/>
<circle cx="652.4" cy="156.0" r="3.1"/>
<circle cx="662.9" cy="148.2" r="3.1"/>
<circle cx="668.4" cy="147.2" r="3.1"/>
<circle cx="673.6" cy="147.5" r="3.1"/>
<circle cx="668.2" cy="155.5" r="3.1"/>
<circle cx="662.7" cy="185.4" r="3.1"/>
<circle cx="679.1" cy="104.1" r="3.1"/>
<circle cx="684.1" cy="117.1" r="3.1"/>
<circle cx="689.9" cy="124.3" r="3.1"/>
<circle cx="684.6" cy="156.7" r="3.1"/>
<circle cx="689.9" cy="172.7" r="3.1"/>
<circle cx="695.1" cy="175.7" r="3.1"/>
<circle cx="700.3" cy="109.8" r="3.1"/>
<circle cx="700.3" cy="226.6" r="3.1"/>
<circle cx="694.9" cy="235.8" r="3.1"/>
<circle cx="732.8" cy="182.2" r="3.1"/>
<circle cx="732.8" cy="206.6" r="3.1"/>
<circle cx="738.3" cy="260.3" r="3.1"/>
<circle cx="743.5" cy="306.4" r="3.1"/>
<circle cx="748.7" cy="217.4" r="3.1"/>
<circle cx="749.0" cy="289.5" r="3.1"/>
<circle cx="754.2" cy="241.8" r="3.1"/>
<circle cx="754.5" cy="249.8" r="3.1"/>
<circle cx="760.0" cy="250.3" r="3.1"/>
<circle cx="759.7" cy="266.5" r="3.1"/>
<circle cx="765.2" cy="262.5" r="3.1"/>
<circle cx="765.2" cy="269.0" r="3.1"/>
<circle cx="770.7" cy="260.0" r="3.1"/>
<circle cx="770.4" cy="279.5" r="3.1"/>
<circle cx="775.9" cy="299.7" r="3.1"/>
<circle cx="775.9" cy="313.7" r="3.1"/>
<circle cx="781.4" cy="309.9" r="3.1"/>
<circle cx="802.9" cy="282.7" r="3.1"/>
<circle cx="802.9" cy="296.2" r="3.1"/>
<circle cx="808.1" cy="255.3" r="3.1"/>
<circle cx="808.4" cy="308.9" r="3.1"/>
<circle cx="824.3" cy="282.5" r="3.1"/>
<circle cx="824.1" cy="317.7" r="3.1"/>
<circle cx="829.8" cy="243.1" r="3.1"/>
<circle cx="829.6" cy="268.3" r="3.1"/>
<circle cx="835.1" cy="218.6" r="3.1"/>
<circle cx="835.1" cy="287.2" r="3.1"/>
<circle cx="840.6" cy="296.4" r="3.1"/>
<circle cx="851.3" cy="173.9" r="3.1"/>
<circle cx="851.3" cy="242.6" r="3.1"/>
<circle cx="894.2" cy="151.2" r="3.1"/>
<circle cx="899.5" cy="193.2" r="3.1"/>
<circle cx="904.9" cy="247.5" r="3.1"/>
<circle cx="910.2" cy="145.7" r="3.1"/>
<circle cx="910.7" cy="150.7" r="3.1"/>
<circle cx="915.9" cy="129.5" r="3.1"/>
<circle cx="926.4" cy="173.2" r="3.1"/>
<circle cx="932.1" cy="214.6" r="3.1"/>
<circle cx="932.4" cy="77.9" r="3.1"/>
<circle cx="936.9" cy="137.5" r="3.1"/>
<circle cx="146.5" cy="1100.3" r="3.3"/>
<circle cx="560.8" cy="1100.3" r="3.3"/>
<circle cx="150.0" cy="1015.5" r="3.3"/>
<circle cx="564.3" cy="1015.5" r="3.3"/>
<circle cx="150.0" cy="1055.2" r="3.3"/>
<circle cx="564.3" cy="1055.2" r="3.3"/>
<circle cx="155.0" cy="1056.2" r="3.3"/>
<circle cx="569.3" cy="1056.2" r="3.3"/>
<circle cx="154.7" cy="1103.3" r="3.3"/>
<circle cx="569.0" cy="1103.3" r="3.3"/>
<circle cx="159.5" cy="1004.5" r="3.3"/>
<circle cx="573.8" cy="1004.5" r="3.3"/>
<circle cx="159.5" cy="1096.6" r="3.3"/>
<circle cx="573.8" cy="1096.6" r="3.3"/>
<circle cx="168.7" cy="1039.7" r="3.3"/>
<circle cx="583.0" cy="1039.7" r="3.3"/>
<circle cx="177.7" cy="1071.7" r="3.3"/>
<circle cx="592.0" cy="1071.7" r="3.3"/>
<circle cx="185.9" cy="1061.4" r="3.3"/>
<circle cx="600.2" cy="1061.4" r="3.3"/>
<circle cx="185.9" cy="1080.4" r="3.3"/>
<circle cx="600.2" cy="1080.4" r="3.3"/>
<circle cx="190.6" cy="1122.6" r="3.3"/>
<circle cx="604.9" cy="1122.6" r="3.3"/>
<circle cx="195.1" cy="1159.2" r="3.3"/>
<circle cx="609.4" cy="1159.2" r="3.3"/>
<circle cx="199.4" cy="1089.1" r="3.3"/>
<circle cx="613.7" cy="1089.1" r="3.3"/>
<circle cx="199.4" cy="1146.0" r="3.3"/>
<circle cx="613.7" cy="1146.0" r="3.3"/>
<circle cx="203.9" cy="1108.3" r="3.3"/>
<circle cx="618.2" cy="1108.3" r="3.3"/>
<circle cx="203.9" cy="1114.1" r="3.3"/>
<circle cx="618.2" cy="1114.1" r="3.3"/>
<circle cx="208.4" cy="1114.8" r="3.3"/>
<circle cx="622.7" cy="1114.8" r="3.3"/>
<circle cx="207.9" cy="1127.5" r="3.3"/>
<circle cx="622.2" cy="1127.5" r="3.3"/>
<circle cx="212.6" cy="1124.1" r="3.3"/>
<circle cx="626.9" cy="1124.1" r="3.3"/>
<circle cx="212.6" cy="1129.5" r="3.3"/>
<circle cx="626.9" cy="1129.5" r="3.3"/>
<circle cx="217.1" cy="1122.3" r="3.3"/>
<circle cx="631.4" cy="1122.3" r="3.3"/>
<circle cx="217.3" cy="1138.0" r="3.3"/>
<circle cx="631.6" cy="1138.0" r="3.3"/>
<circle cx="221.8" cy="1153.7" r="3.3"/>
<circle cx="636.1" cy="1153.7" r="3.3"/>
<circle cx="221.8" cy="1165.0" r="3.3"/>
<circle cx="636.1" cy="1165.0" r="3.3"/>
<circle cx="226.1" cy="1162.0" r="3.3"/>
<circle cx="640.4" cy="1162.0" r="3.3"/>
<circle cx="244.0" cy="1140.8" r="3.3"/>
<circle cx="658.3" cy="1140.8" r="3.3"/>
<circle cx="243.8" cy="1151.0" r="3.3"/>
<circle cx="658.1" cy="1151.0" r="3.3"/>
<circle cx="248.3" cy="1067.9" r="3.3"/>
<circle cx="662.6" cy="1067.9" r="3.3"/>
<circle cx="248.3" cy="1119.1" r="3.3"/>
<circle cx="662.6" cy="1119.1" r="3.3"/>
<circle cx="248.3" cy="1161.0" r="3.3"/>
<circle cx="662.6" cy="1161.0" r="3.3"/>
<circle cx="261.5" cy="1140.8" r="3.3"/>
<circle cx="675.8" cy="1140.8" r="3.3"/>
<circle cx="261.5" cy="1168.2" r="3.3"/>
<circle cx="675.8" cy="1168.2" r="3.3"/>
<circle cx="266.0" cy="1109.3" r="3.3"/>
<circle cx="680.3" cy="1109.3" r="3.3"/>
<circle cx="266.0" cy="1128.8" r="3.3"/>
<circle cx="680.3" cy="1128.8" r="3.3"/>
<circle cx="270.5" cy="1090.1" r="3.3"/>
<circle cx="684.8" cy="1090.1" r="3.3"/>
<circle cx="270.7" cy="1143.5" r="3.3"/>
<circle cx="685.0" cy="1143.5" r="3.3"/>
<circle cx="275.0" cy="1151.0" r="3.3"/>
<circle cx="689.3" cy="1151.0" r="3.3"/>
<circle cx="275.7" cy="1133.8" r="3.3"/>
<circle cx="690.0" cy="1133.8" r="3.3"/>
<circle cx="279.7" cy="1099.9" r="3.3"/>
<circle cx="694.0" cy="1099.9" r="3.3"/>
<circle cx="279.7" cy="1118.6" r="3.3"/>
<circle cx="694.0" cy="1118.6" r="3.3"/>
<circle cx="284.0" cy="1054.7" r="3.3"/>
<circle cx="698.3" cy="1054.7" r="3.3"/>
<circle cx="284.2" cy="1108.6" r="3.3"/>
<circle cx="698.5" cy="1108.6" r="3.3"/>
<circle cx="284.5" cy="1114.6" r="3.3"/>
<circle cx="698.8" cy="1114.6" r="3.3"/>
<circle cx="297.7" cy="1102.8" r="3.3"/>
<circle cx="712.0" cy="1102.8" r="3.3"/>
<circle cx="297.9" cy="1127.0" r="3.3"/>
<circle cx="712.2" cy="1127.0" r="3.3"/>
<circle cx="306.7" cy="1060.9" r="3.3"/>
<circle cx="721.0" cy="1060.9" r="3.3"/>
<circle cx="306.7" cy="1077.4" r="3.3"/>
<circle cx="721.0" cy="1077.4" r="3.3"/>
<circle cx="311.2" cy="1073.9" r="3.3"/>
<circle cx="725.5" cy="1073.9" r="3.3"/>
<circle cx="315.4" cy="1035.5" r="3.3"/>
<circle cx="729.7" cy="1035.5" r="3.3"/>
<circle cx="319.6" cy="1036.7" r="3.3"/>
<circle cx="733.9" cy="1036.7" r="3.3"/>
<circle cx="323.9" cy="1045.7" r="3.3"/>
<circle cx="738.2" cy="1045.7" r="3.3"/>
<circle cx="323.9" cy="1069.9" r="3.3"/>
<circle cx="738.2" cy="1069.9" r="3.3"/>
<circle cx="328.4" cy="1112.8" r="3.3"/>
<circle cx="742.7" cy="1112.8" r="3.3"/>
<circle cx="332.4" cy="1032.2" r="3.3"/>
<circle cx="746.7" cy="1032.2" r="3.3"/>
<circle cx="332.6" cy="1036.2" r="3.3"/>
<circle cx="746.9" cy="1036.2" r="3.3"/>
<circle cx="337.1" cy="1020.0" r="3.3"/>
<circle cx="751.4" cy="1020.0" r="3.3"/>
<circle cx="345.8" cy="1054.4" r="3.3"/>
<circle cx="760.1" cy="1054.4" r="3.3"/>
<circle cx="350.8" cy="979.3" r="3.3"/>
<circle cx="765.1" cy="979.3" r="3.3"/>
<circle cx="350.6" cy="1086.9" r="3.3"/>
<circle cx="764.9" cy="1086.9" r="3.3"/>
<circle cx="355.3" cy="1021.0" r="3.3"/>
<circle cx="769.6" cy="1021.0" r="3.3"/>
<circle cx="355.1" cy="1025.5" r="3.3"/>
<circle cx="769.4" cy="1025.5" r="3.3"/>
<circle cx="355.6" cy="1068.9" r="3.3"/>
<circle cx="769.9" cy="1068.9" r="3.3"/>
<circle cx="359.8" cy="1076.9" r="3.3"/>
<circle cx="774.1" cy="1076.9" r="3.3"/>
<circle cx="360.1" cy="1029.0" r="3.3"/>
<circle cx="774.4" cy="1029.0" r="3.3"/>
<circle cx="364.3" cy="1028.2" r="3.3"/>
<circle cx="778.6" cy="1028.2" r="3.3"/>
<circle cx="364.1" cy="1037.7" r="3.3"/>
<circle cx="778.4" cy="1037.7" r="3.3"/>
<circle cx="369.0" cy="989.1" r="3.3"/>
<circle cx="783.3" cy="989.1" r="3.3"/>
<circle cx="368.8" cy="1008.3" r="3.3"/>
<circle cx="783.1" cy="1008.3" r="3.3"/>
<circle cx="377.5" cy="991.8" r="3.3"/>
<circle cx="791.8" cy="991.8" r="3.3"/>
<circle cx="377.5" cy="1001.0" r="3.3"/>
<circle cx="791.8" cy="1001.0" r="3.3"/>
<circle cx="382.3" cy="1010.5" r="3.3"/>
<circle cx="796.6" cy="1010.5" r="3.3"/>
<circle cx="390.7" cy="959.9" r="3.3"/>
<circle cx="805.0" cy="959.9" r="3.3"/>
<circle cx="395.5" cy="980.1" r="3.3"/>
<circle cx="809.8" cy="980.1" r="3.3"/>
<circle cx="395.7" cy="995.1" r="3.3"/>
<circle cx="810.0" cy="995.1" r="3.3"/>
<circle cx="404.5" cy="962.9" r="3.3"/>
<circle cx="818.8" cy="962.9" r="3.3"/>
<circle cx="404.7" cy="972.4" r="3.3"/>
<circle cx="819.0" cy="972.4" r="3.3"/>
<circle cx="408.9" cy="966.9" r="3.3"/>
<circle cx="823.2" cy="966.9" r="3.3"/>
<circle cx="409.2" cy="978.8" r="3.3"/>
<circle cx="823.5" cy="978.8" r="3.3"/>
<circle cx="422.2" cy="975.1" r="3.3"/>
<circle cx="836.5" cy="975.1" r="3.3"/>
<circle cx="422.2" cy="994.1" r="3.3"/>
<circle cx="836.5" cy="994.1" r="3.3"/>
<circle cx="426.7" cy="981.1" r="3.3"/>
<circle cx="841.0" cy="981.1" r="3.3"/>
<circle cx="431.1" cy="1016.3" r="3.3"/>
<circle cx="845.4" cy="1016.3" r="3.3"/>
<circle cx="439.9" cy="979.3" r="3.3"/>
<circle cx="854.2" cy="979.3" r="3.3"/>
<circle cx="439.6" cy="988.6" r="3.3"/>
<circle cx="853.9" cy="988.6" r="3.3"/>
<circle cx="444.9" cy="972.4" r="3.3"/>
<circle cx="859.2" cy="972.4" r="3.3"/>
<circle cx="449.1" cy="998.8" r="3.3"/>
<circle cx="863.4" cy="998.8" r="3.3"/>
<circle cx="493.0" cy="994.3" r="3.3"/>
<circle cx="907.3" cy="994.3" r="3.3"/>
<circle cx="497.3" cy="997.3" r="3.3"/>
<circle cx="911.6" cy="997.3" r="3.3"/>
<circle cx="502.0" cy="993.8" r="3.3"/>
<circle cx="916.3" cy="993.8" r="3.3"/>
<circle cx="506.7" cy="997.3" r="3.3"/>
<circle cx="921.0" cy="997.3" r="3.3"/>
<circle cx="498.0" cy="1017.0" r="3.3"/>
<circle cx="912.3" cy="1017.0" r="3.3"/>
<circle cx="493.5" cy="1022.8" r="3.3"/>
<circle cx="907.8" cy="1022.8" r="3.3"/>
<circle cx="488.8" cy="1031.5" r="3.3"/>
<circle cx="903.1" cy="1031.5" r="3.3"/>
<circle cx="488.8" cy="1035.5" r="3.3"/>
<circle cx="903.1" cy="1035.5" r="3.3"/>
<circle cx="502.3" cy="1028.7" r="3.3"/>
<circle cx="916.6" cy="1028.7" r="3.3"/>
<circle cx="506.7" cy="1023.8" r="3.3"/>
<circle cx="921.0" cy="1023.8" r="3.3"/>
<circle cx="511.2" cy="1006.8" r="3.3"/>
<circle cx="925.5" cy="1006.8" r="3.3"/>
<circle cx="511.5" cy="1054.9" r="3.3"/>
<circle cx="925.8" cy="1054.9" r="3.3"/>
<circle cx="515.5" cy="988.1" r="3.3"/>
<circle cx="929.8" cy="988.1" r="3.3"/>
<circle cx="515.7" cy="1003.3" r="3.3"/>
<circle cx="930.0" cy="1003.3" r="3.3"/>
<circle cx="520.0" cy="984.1" r="3.3"/>
<circle cx="934.3" cy="984.1" r="3.3"/>
<circle cx="529.2" cy="1004.5" r="3.3"/>
<circle cx="943.5" cy="1004.5" r="3.3"/>
<circle cx="533.2" cy="1028.0" r="3.3"/>
<circle cx="947.5" cy="1028.0" r="3.3"/>
<circle cx="533.4" cy="1041.0" r="3.3"/>
<circle cx="947.7" cy="1041.0" r="3.3"/>
<circle cx="537.7" cy="996.6" r="3.3"/>
<circle cx="952.0" cy="996.6" r="3.3"/>
<circle cx="537.9" cy="1013.5" r="3.3"/>
<circle cx="952.2" cy="1013.5" r="3.3"/>
<circle cx="542.2" cy="1035.5" r="3.3"/>
<circle cx="956.5" cy="1035.5" r="3.3"/>
<circle cx="542.4" cy="1063.9" r="3.3"/>
<circle cx="956.7" cy="1063.9" r="3.3"/>
<circle cx="546.7" cy="1034.2" r="3.3"/>
<circle cx="961.0" cy="1034.2" r="3.3"/>
<circle cx="546.7" cy="1040.2" r="3.3"/>
<circle cx="961.0" cy="1040.2" r="3.3"/>
<circle cx="551.2" cy="1034.0" r="3.3"/>
<circle cx="965.5" cy="1034.0" r="3.3"/>
<circle cx="555.6" cy="999.8" r="3.3"/>
<circle cx="969.9" cy="999.8" r="3.3"/>
<circle cx="559.9" cy="1009.8" r="3.3"/>
<circle cx="974.2" cy="1009.8" r="3.3"/>
<circle cx="560.1" cy="1041.7" r="3.3"/>
<circle cx="974.4" cy="1041.7" r="3.3"/>
</g>
<g>
<text font-size="24"><tspan x="179.20" y="43.30" textLength="86.64" lengthAdjust="spacingAndGlyphs">Season</tspan> <tspan x="277.60" y="43.30" textLength="60.84" lengthAdjust="spacingAndGlyphs">2011</tspan></text>
<text font-size="24"><tspan x="467.20" y="45.00" textLength="63.23" lengthAdjust="spacingAndGlyphs">Mean</tspan> <tspan x="541.20" y="44.60" textLength="20.29" lengthAdjust="spacingAndGlyphs">=</tspan> <tspan x="572.60" y="45.00" textLength="81.67" lengthAdjust="spacingAndGlyphs">3.4936</tspan></text>
<text font-size="24"><tspan x="790.40" y="43.40" font-style="italic" textLength="14.82" lengthAdjust="spacingAndGlyphs">σ</tspan> <tspan x="817.60" y="45.30" textLength="19.18" lengthAdjust="spacingAndGlyphs">=</tspan> <tspan x="848.20" y="43.40" textLength="15.46" lengthAdjust="spacingAndGlyphs">0</tspan> <tspan x="875.20" y="43.40" textLength="66.80" lengthAdjust="spacingAndGlyphs">.0070</tspan></text>
<text font-size="25.5"><tspan x="70.20" y="41.25" textLength="58.56" lengthAdjust="spacingAndGlyphs">3.48</tspan></text>
<text font-size="25.5"><tspan x="70.20" y="145.60" textLength="58.56" lengthAdjust="spacingAndGlyphs">3.49</tspan></text>
<text font-size="25.5"><tspan x="86.80" y="249.95" textLength="42.14" lengthAdjust="spacingAndGlyphs">3.5</tspan></text>
<text font-size="25.5"><tspan x="137.00" y="376.80" textLength="83.16" lengthAdjust="spacingAndGlyphs">55600</tspan></text>
<text font-size="25.5"><tspan x="406.00" y="376.80" textLength="83.16" lengthAdjust="spacingAndGlyphs">55650</tspan></text>
<text font-size="25.5"><tspan x="676.00" y="376.80" textLength="83.16" lengthAdjust="spacingAndGlyphs">55700</tspan></text>
<text font-size="31.7"><tspan x="326.40" y="415.30" textLength="64.09" lengthAdjust="spacingAndGlyphs">Hel.</tspan> <tspan x="410.00" y="415.30" textLength="93.71" lengthAdjust="spacingAndGlyphs">Julian</tspan> <tspan x="521.00" y="415.30" textLength="58.01" lengthAdjust="spacingAndGlyphs">Day</tspan> <tspan x="596.60" y="415.30" textLength="23.56" lengthAdjust="spacingAndGlyphs">−</tspan> <tspan x="636.80" y="415.30" textLength="157.32" lengthAdjust="spacingAndGlyphs">2,400,000</tspan></text>
<text transform="translate(26.70 248.60) rotate(-90)" font-size="31.1"><tspan x="0.00" y="0.00" textLength="19.07" lengthAdjust="spacingAndGlyphs">Δ</tspan><tspan x="20.00" y="0.00" font-size="38" textLength="14.11" lengthAdjust="spacingAndGlyphs">(</tspan><tspan x="33.20" y="0.00" textLength="20.05" lengthAdjust="spacingAndGlyphs">b</tspan><tspan x="53.60" y="0.00" textLength="25.62" lengthAdjust="spacingAndGlyphs">+</tspan><tspan x="79.60" y="0.00" textLength="17.60" lengthAdjust="spacingAndGlyphs">y</tspan><tspan x="97.40" y="0.00" font-size="38" textLength="14.32" lengthAdjust="spacingAndGlyphs">)</tspan><tspan x="113.00" y="5.50" font-size="52" style="font-family:'Liberation Serif'" rotate="7.8">/</tspan><tspan x="133.00" y="0.00" textLength="21.01" lengthAdjust="spacingAndGlyphs">2</tspan></text>
<text font-size="24"><tspan x="179.00" y="486.50" textLength="9.05" lengthAdjust="spacingAndGlyphs">f</tspan> <tspan x="201.80" y="486.10" textLength="19.82" lengthAdjust="spacingAndGlyphs">=</tspan> <tspan x="231.40" y="486.50" textLength="82.51" lengthAdjust="spacingAndGlyphs">0.0108</tspan> <tspan x="324.80" y="486.50" textLength="19.82" lengthAdjust="spacingAndGlyphs">+</tspan><tspan x="344.80" y="489.90" font-size="40" style="font-family:'Liberation Serif'" rotate="7.8">/</tspan><tspan x="359.40" y="486.50" textLength="20.55" lengthAdjust="spacingAndGlyphs">−</tspan> <tspan x="391.00" y="486.50" textLength="80.85" lengthAdjust="spacingAndGlyphs">0.0004</tspan> <tspan x="484.40" y="486.50" textLength="12.30" lengthAdjust="spacingAndGlyphs">c</tspan><tspan x="498.80" y="490.20" font-size="40" style="font-family:'Liberation Serif'" rotate="7.8">/</tspan><tspan x="514.60" y="486.50" textLength="14.52" lengthAdjust="spacingAndGlyphs">d</tspan></text>
<text font-size="24"><tspan x="179.00" y="520.40" textLength="16.23" lengthAdjust="spacingAndGlyphs">P</tspan> <tspan x="207.60" y="520.00" textLength="19.18" lengthAdjust="spacingAndGlyphs">=</tspan> <tspan x="238.60" y="520.40" textLength="51.72" lengthAdjust="spacingAndGlyphs">92.9</tspan> <tspan x="301.80" y="520.40" textLength="20.04" lengthAdjust="spacingAndGlyphs">+</tspan><tspan x="322.80" y="523.50" font-size="40" style="font-family:'Liberation Serif'" rotate="7.8">/</tspan><tspan x="337.40" y="520.40" textLength="18.83" lengthAdjust="spacingAndGlyphs">−</tspan> <tspan x="379.20" y="520.40" textLength="36.92" lengthAdjust="spacingAndGlyphs">3.4</tspan> <tspan x="428.60" y="520.40" textLength="56.29" lengthAdjust="spacingAndGlyphs">days</tspan></text>
<text font-size="25.5"><tspan x="86.60" y="781.30" textLength="40.75" lengthAdjust="spacingAndGlyphs">0.0</tspan></text>
<text font-size="25.5"><tspan x="86.60" y="724.17" textLength="41.92" lengthAdjust="spacingAndGlyphs">0.2</tspan></text>
<text font-size="25.5"><tspan x="86.60" y="667.04" textLength="40.75" lengthAdjust="spacingAndGlyphs">0.4</tspan></text>
<text font-size="25.5"><tspan x="86.60" y="609.91" textLength="40.75" lengthAdjust="spacingAndGlyphs">0.6</tspan></text>
<text font-size="25.5"><tspan x="86.60" y="552.78" textLength="40.75" lengthAdjust="spacingAndGlyphs">0.8</tspan></text>
<text font-size="25.5"><tspan x="86.80" y="495.65" textLength="40.82" lengthAdjust="spacingAndGlyphs">1.0</tspan></text>
<text font-size="25.5"><tspan x="180.60" y="819.60" textLength="59.63" lengthAdjust="spacingAndGlyphs">0.01</tspan></text>
<text font-size="25.5"><tspan x="308.72" y="819.60" textLength="57.39" lengthAdjust="spacingAndGlyphs">0.02</tspan></text>
<text font-size="25.5"><tspan x="435.84" y="819.60" textLength="57.39" lengthAdjust="spacingAndGlyphs">0.03</tspan></text>
<text font-size="25.5"><tspan x="563.96" y="819.60" textLength="56.29" lengthAdjust="spacingAndGlyphs">0.04</tspan></text>
<text font-size="25.5"><tspan x="691.08" y="819.60" textLength="57.39" lengthAdjust="spacingAndGlyphs">0.05</tspan></text>
<text font-size="25.5"><tspan x="818.20" y="819.60" textLength="57.33" lengthAdjust="spacingAndGlyphs">0.06</tspan></text>
<text font-size="25.5"><tspan x="946.32" y="819.60" textLength="57.39" lengthAdjust="spacingAndGlyphs">0.07</tspan></text>
<text font-size="31.7"><tspan x="376.60" y="858.00" textLength="76.02" lengthAdjust="spacingAndGlyphs">Trial</tspan> <tspan x="467.20" y="858.00" textLength="173.61" lengthAdjust="spacingAndGlyphs">Frequency</tspan> <tspan x="657.20" y="858.00" font-size="35.5" textLength="13.36" lengthAdjust="spacingAndGlyphs">(</tspan><tspan x="672.00" y="858.00" textLength="17.06" lengthAdjust="spacingAndGlyphs">c</tspan><tspan x="691.00" y="864.00" font-size="53" style="font-family:'Liberation Serif'" rotate="7.8">/</tspan><tspan x="712.40" y="858.00" textLength="17.94" lengthAdjust="spacingAndGlyphs">d</tspan><tspan x="732.00" y="858.00" font-size="35.5" textLength="13.50" lengthAdjust="spacingAndGlyphs">)</tspan></text>
<text transform="translate(52.20 761.60) rotate(-90)" font-size="31.1"><tspan x="0.00" y="0.00" textLength="166.82" lengthAdjust="spacingAndGlyphs">Reduction</tspan> <tspan x="181.80" y="0.00" textLength="109.23" lengthAdjust="spacingAndGlyphs">Factor</tspan></text>
<text font-size="24"><tspan x="172.20" y="929.50" textLength="63.44" lengthAdjust="spacingAndGlyphs">Mean</tspan> <tspan x="247.20" y="929.10" textLength="20.04" lengthAdjust="spacingAndGlyphs">=</tspan> <tspan x="278.20" y="929.50" textLength="81.50" lengthAdjust="spacingAndGlyphs">3.4927</tspan></text>
<text font-size="24"><tspan x="772.80" y="929.50" textLength="81.23" lengthAdjust="spacingAndGlyphs">Period</tspan> <tspan x="866.00" y="929.10" textLength="20.04" lengthAdjust="spacingAndGlyphs">=</tspan> <tspan x="896.60" y="929.50" textLength="51.93" lengthAdjust="spacingAndGlyphs">92.9</tspan></text>
<text font-size="24"><tspan x="172.00" y="1203.80" textLength="47.65" lengthAdjust="spacingAndGlyphs">Full</tspan> <tspan x="232.00" y="1203.80" textLength="53.61" lengthAdjust="spacingAndGlyphs">Amp</tspan> <tspan x="298.60" y="1203.40" textLength="18.53" lengthAdjust="spacingAndGlyphs">=</tspan> <tspan x="328.80" y="1203.80" textLength="80.67" lengthAdjust="spacingAndGlyphs">0.0186</tspan> <tspan x="420.80" y="1203.80" textLength="20.04" lengthAdjust="spacingAndGlyphs">+</tspan><tspan x="440.80" y="1207.10" font-size="40" style="font-family:'Liberation Serif'" rotate="7.8">/</tspan><tspan x="456.40" y="1203.80" textLength="18.83" lengthAdjust="spacingAndGlyphs">−</tspan> <tspan x="488.00" y="1203.80" textLength="80.67" lengthAdjust="spacingAndGlyphs">0.0009</tspan></text>
<text font-size="24"><tspan x="775.80" y="1203.80" textLength="49.47" lengthAdjust="spacingAndGlyphs">rms</tspan> <tspan x="836.40" y="1203.40" textLength="19.86" lengthAdjust="spacingAndGlyphs">=</tspan> <tspan x="867.00" y="1203.80" textLength="82.08" lengthAdjust="spacingAndGlyphs">0.0031</tspan></text>
<text font-size="25.5"><tspan x="70.20" y="952.15" textLength="58.56" lengthAdjust="spacingAndGlyphs">3.48</tspan></text>
<text font-size="25.5"><tspan x="70.20" y="1034.30" textLength="58.56" lengthAdjust="spacingAndGlyphs">3.49</tspan></text>
<text font-size="25.5"><tspan x="86.80" y="1116.45" textLength="42.14" lengthAdjust="spacingAndGlyphs">3.5</tspan></text>
<text font-size="25.5"><tspan x="70.20" y="1198.60" textLength="57.87" lengthAdjust="spacingAndGlyphs">3.51</tspan></text>
<text font-size="25.5"><tspan x="125.80" y="1270.50" textLength="41.48" lengthAdjust="spacingAndGlyphs">0.0</tspan></text>
<text font-size="25.5"><tspan x="209.14" y="1270.50" textLength="41.61" lengthAdjust="spacingAndGlyphs">0.2</tspan></text>
<text font-size="25.5"><tspan x="291.48" y="1270.50" textLength="41.39" lengthAdjust="spacingAndGlyphs">0.4</tspan></text>
<text font-size="25.5"><tspan x="374.82" y="1270.50" textLength="40.33" lengthAdjust="spacingAndGlyphs">0.6</tspan></text>
<text font-size="25.5"><tspan x="457.16" y="1270.50" textLength="41.39" lengthAdjust="spacingAndGlyphs">0.8</tspan></text>
<text font-size="25.5"><tspan x="540.50" y="1270.50" textLength="40.42" lengthAdjust="spacingAndGlyphs">0.0</tspan></text>
<text font-size="25.5"><tspan x="622.84" y="1270.50" textLength="42.58" lengthAdjust="spacingAndGlyphs">0.2</tspan></text>
<text font-size="25.5"><tspan x="706.18" y="1270.50" textLength="40.33" lengthAdjust="spacingAndGlyphs">0.4</tspan></text>
<text font-size="25.5"><tspan x="788.52" y="1270.50" textLength="41.48" lengthAdjust="spacingAndGlyphs">0.6</tspan></text>
<text font-size="25.5"><tspan x="871.86" y="1270.50" textLength="41.39" lengthAdjust="spacingAndGlyphs">0.8</tspan></text>
<text font-size="25.5"><tspan x="954.20" y="1270.50" textLength="41.39" lengthAdjust="spacingAndGlyphs">0.0</tspan></text>
<text font-size="31.7"><tspan x="399.60" y="1309.20" textLength="208.84" lengthAdjust="spacingAndGlyphs">Photometric</tspan> <tspan x="624.40" y="1309.20" textLength="97.10" lengthAdjust="spacingAndGlyphs">Phase</tspan></text>
<text transform="translate(26.70 1135.80) rotate(-90)" font-size="31.1"><tspan x="0.00" y="0.00" textLength="20.11" lengthAdjust="spacingAndGlyphs">Δ</tspan><tspan x="20.00" y="0.00" font-size="38" textLength="14.29" lengthAdjust="spacingAndGlyphs">(</tspan><tspan x="33.20" y="0.00" textLength="20.05" lengthAdjust="spacingAndGlyphs">b</tspan><tspan x="54.60" y="0.00" textLength="24.34" lengthAdjust="spacingAndGlyphs">+</tspan><tspan x="80.60" y="0.00" textLength="17.66" lengthAdjust="spacingAndGlyphs">y</tspan><tspan x="98.40" y="0.00" font-size="38" textLength="13.26" lengthAdjust="spacingAndGlyphs">)</tspan><tspan x="113.00" y="5.50" font-size="52" style="font-family:'Liberation Serif'" rotate="7.8">/</tspan><tspan x="133.00" y="0.00" textLength="21.33" lengthAdjust="spacingAndGlyphs">2</tspan></text>
</g>
</svg></body></html>
